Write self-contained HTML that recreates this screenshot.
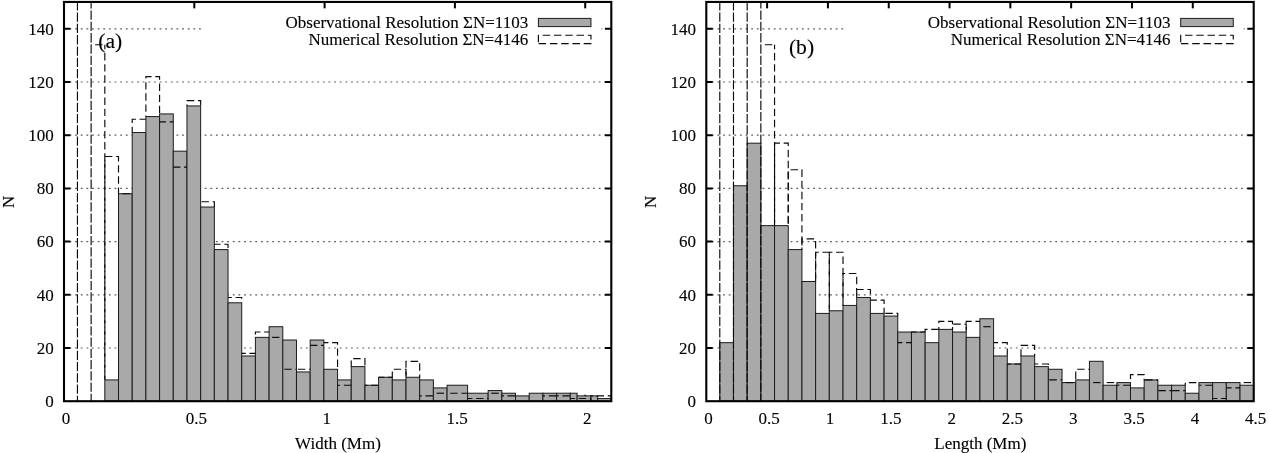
<!DOCTYPE html>
<html lang="en">
<head>
<meta charset="utf-8">
<title>Histograms of width and length</title>
<style>
html,body{margin:0;padding:0;background:#fff;}
body{width:1269px;height:453px;overflow:hidden;}
svg{display:block;}
svg text{font-family:"Liberation Serif", "DejaVu Serif", serif;font-size:17.0px;fill:#000;stroke:#000;stroke-width:0.12px;}
.grid{stroke:#5a5a5a;stroke-width:1.2;stroke-dasharray:1.8 3.83;fill:none;}
.bar{fill:#a9a9a9;stroke:#1c1c1c;stroke-width:1.0;}
.dash{fill:none;stroke:#0a0a0a;stroke-width:1.15;stroke-dasharray:7.42 3.71;}
.frame{fill:none;stroke:#000;stroke-width:2.1;}
.tick{fill:none;stroke:#000;stroke-width:2;}
</style>
</head>
<body>
<svg width="1269" height="453" viewBox="0 0 1269 453">
<rect x="0" y="0" width="1269" height="453" fill="#ffffff"/>
<line x1="63.90" y1="348.00" x2="611.30" y2="348.00" class="grid"/>
<line x1="63.90" y1="294.80" x2="611.30" y2="294.80" class="grid"/>
<line x1="63.90" y1="241.60" x2="611.30" y2="241.60" class="grid"/>
<line x1="63.90" y1="188.40" x2="611.30" y2="188.40" class="grid"/>
<line x1="63.90" y1="135.20" x2="611.30" y2="135.20" class="grid"/>
<line x1="63.90" y1="82.00" x2="611.30" y2="82.00" class="grid"/>
<line x1="63.90" y1="28.80" x2="201.80" y2="28.80" class="grid"/>
<line x1="601.00" y1="28.80" x2="602.70" y2="28.80" class="grid" style="stroke-dasharray:none;opacity:.55"/>
<path d="M194.30,401.20v-6.4" class="tick"/>
<path d="M324.60,401.20v-6.4" class="tick"/>
<path d="M454.90,401.20v-6.4" class="tick"/>
<path d="M585.20,401.20v-6.4" class="tick"/>
<rect x="104.82" y="379.92" width="13.69" height="21.28" class="bar"/>
<rect x="118.51" y="193.72" width="13.69" height="207.48" class="bar"/>
<rect x="132.20" y="132.54" width="13.69" height="268.66" class="bar"/>
<rect x="145.89" y="116.58" width="13.69" height="284.62" class="bar"/>
<rect x="159.58" y="113.92" width="13.69" height="287.28" class="bar"/>
<rect x="173.27" y="151.16" width="13.69" height="250.04" class="bar"/>
<rect x="186.96" y="105.94" width="13.69" height="295.26" class="bar"/>
<rect x="200.65" y="207.02" width="13.69" height="194.18" class="bar"/>
<rect x="214.34" y="249.58" width="13.69" height="151.62" class="bar"/>
<rect x="228.03" y="302.78" width="13.69" height="98.42" class="bar"/>
<rect x="241.72" y="355.98" width="13.69" height="45.22" class="bar"/>
<rect x="255.41" y="337.36" width="13.69" height="63.84" class="bar"/>
<rect x="269.10" y="326.72" width="13.69" height="74.48" class="bar"/>
<rect x="282.79" y="340.02" width="13.69" height="61.18" class="bar"/>
<rect x="296.48" y="371.94" width="13.69" height="29.26" class="bar"/>
<rect x="310.17" y="340.02" width="13.69" height="61.18" class="bar"/>
<rect x="323.86" y="369.28" width="13.69" height="31.92" class="bar"/>
<rect x="337.55" y="379.92" width="13.69" height="21.28" class="bar"/>
<rect x="351.24" y="366.62" width="13.69" height="34.58" class="bar"/>
<rect x="364.93" y="385.24" width="13.69" height="15.96" class="bar"/>
<rect x="378.62" y="377.26" width="13.69" height="23.94" class="bar"/>
<rect x="392.31" y="379.92" width="13.69" height="21.28" class="bar"/>
<rect x="406.00" y="377.26" width="13.69" height="23.94" class="bar"/>
<rect x="419.69" y="379.92" width="13.69" height="21.28" class="bar"/>
<rect x="433.38" y="387.90" width="13.69" height="13.30" class="bar"/>
<rect x="447.07" y="385.24" width="20.53" height="15.96" class="bar"/>
<rect x="467.60" y="393.22" width="20.54" height="7.98" class="bar"/>
<rect x="488.14" y="390.56" width="13.69" height="10.64" class="bar"/>
<rect x="501.83" y="393.22" width="13.69" height="7.98" class="bar"/>
<rect x="515.52" y="395.88" width="13.69" height="5.32" class="bar"/>
<rect x="529.21" y="393.22" width="13.69" height="7.98" class="bar"/>
<rect x="542.90" y="393.22" width="13.69" height="7.98" class="bar"/>
<rect x="556.59" y="393.22" width="13.69" height="7.98" class="bar"/>
<rect x="570.28" y="393.22" width="6.85" height="7.98" class="bar"/>
<rect x="577.12" y="395.88" width="20.53" height="5.32" class="bar"/>
<rect x="597.66" y="398.54" width="13.64" height="2.66" class="bar"/>
<path d="M77.44,401.20V1.95" class="dash" style="stroke-dasharray:9.27 2" stroke-dashoffset="3.82"/>
<path d="M91.13,401.20V1.95" class="dash" style="stroke-dasharray:9.27 2" stroke-dashoffset="1.82"/>
<path d="M91.13,44.76H104.82" class="dash" stroke-dashoffset="7.12"/>
<path d="M104.82,44.76V379.92" class="dash" stroke-dashoffset="2.84"/>
<path d="M104.82,379.92V156.48H118.51V193.72" class="dash" stroke-dashoffset="10.15"/>
<path d="M118.51,193.72H132.20" class="dash" stroke-dashoffset="7.14"/>
<path d="M132.20,132.54V119.24H145.89" class="dash" stroke-dashoffset="1.54"/>
<path d="M145.89,116.58V76.68H159.58V113.92" class="dash" stroke-dashoffset="6.37"/>
<path d="M159.58,121.90H173.27" class="dash" stroke-dashoffset="1.05"/>
<path d="M173.27,167.12H186.96" class="dash" stroke-dashoffset="0.35"/>
<path d="M186.96,105.94V100.62H200.65V105.94" class="dash" stroke-dashoffset="5.88"/>
<path d="M200.65,201.70H214.34V207.02" class="dash" stroke-dashoffset="10.29"/>
<path d="M214.34,244.26H228.03V249.58" class="dash" stroke-dashoffset="1.12"/>
<path d="M228.03,297.46H241.72V302.78" class="dash" stroke-dashoffset="3.57"/>
<path d="M241.72,353.32H255.41" class="dash" stroke-dashoffset="3.36"/>
<path d="M255.41,337.36V332.04H269.10" class="dash" stroke-dashoffset="8.19"/>
<path d="M269.10,337.36H282.79" class="dash" stroke-dashoffset="8.19"/>
<path d="M282.79,369.28H296.48" class="dash" stroke-dashoffset="9.66"/>
<path d="M296.48,369.28H310.17" class="dash" stroke-dashoffset="9.66"/>
<path d="M310.17,345.34H323.86" class="dash" stroke-dashoffset="0.21"/>
<path d="M323.86,342.68H337.55V369.28" class="dash" stroke-dashoffset="2.87"/>
<path d="M337.55,385.24H351.24" class="dash" stroke-dashoffset="4.83"/>
<path d="M351.24,366.62V358.64H364.93V366.62" class="dash" stroke-dashoffset="1.19"/>
<path d="M364.93,385.24H378.62" class="dash" stroke-dashoffset="4.83"/>
<path d="M378.62,377.26H392.31" class="dash" stroke-dashoffset="1.68"/>
<path d="M392.31,377.26V369.28H406.00V377.26" class="dash" stroke-dashoffset="1.68"/>
<path d="M406.00,377.26V361.30H419.69V377.26" class="dash" stroke-dashoffset="1.68"/>
<path d="M419.69,395.88H433.38" class="dash" stroke-dashoffset="5.32"/>
<path d="M433.38,393.22H447.07" class="dash" stroke-dashoffset="7.98"/>
<path d="M447.07,393.22H467.60" class="dash" stroke-dashoffset="7.98"/>
<path d="M467.60,398.54H488.14" class="dash" stroke-dashoffset="2.66"/>
<path d="M488.14,393.22H501.83" class="dash" stroke-dashoffset="7.98"/>
<path d="M501.83,395.88H515.52" class="dash" stroke-dashoffset="5.32"/>
<path d="M542.90,395.88H556.59" class="dash" stroke-dashoffset="5.32"/>
<path d="M556.59,395.88H570.28" class="dash" stroke-dashoffset="5.32"/>
<path d="M570.28,398.54H590.81V401.20" class="dash" stroke-dashoffset="2.66"/>
<path d="M590.81,401.20V395.88H611.30" class="dash" stroke-dashoffset="0.00"/>
<rect x="64.00" y="1.95" width="547.30" height="399.25" class="frame"/>
<text x="53.80" y="406.90" text-anchor="end">0</text>
<path d="M64.00,348.00h6.4M611.30,348.00h-6.4" class="tick"/>
<text x="53.80" y="353.70" text-anchor="end">20</text>
<path d="M64.00,294.80h6.4M611.30,294.80h-6.4" class="tick"/>
<text x="53.80" y="300.50" text-anchor="end">40</text>
<path d="M64.00,241.60h6.4M611.30,241.60h-6.4" class="tick"/>
<text x="53.80" y="247.30" text-anchor="end">60</text>
<path d="M64.00,188.40h6.4M611.30,188.40h-6.4" class="tick"/>
<text x="53.80" y="194.10" text-anchor="end">80</text>
<path d="M64.00,135.20h6.4M611.30,135.20h-6.4" class="tick"/>
<text x="53.80" y="140.90" text-anchor="end">100</text>
<path d="M64.00,82.00h6.4M611.30,82.00h-6.4" class="tick"/>
<text x="53.80" y="87.70" text-anchor="end">120</text>
<path d="M64.00,28.80h6.4M611.30,28.80h-6.4" class="tick"/>
<text x="53.80" y="34.50" text-anchor="end">140</text>
<text x="66.10" y="423.7" text-anchor="middle">0</text>
<path d="M194.30,1.95v6.4" class="tick"/>
<text x="196.40" y="423.7" text-anchor="middle">0.5</text>
<path d="M324.60,1.95v6.4" class="tick"/>
<text x="326.70" y="423.7" text-anchor="middle">1</text>
<path d="M454.90,1.95v6.4" class="tick"/>
<text x="457.00" y="423.7" text-anchor="middle">1.5</text>
<path d="M585.20,1.95v6.4" class="tick"/>
<text x="587.30" y="423.7" text-anchor="middle">2</text>
<text x="337.95" y="449.2" text-anchor="middle">Width (Mm)</text>
<text transform="translate(13.90,201.97) rotate(-90)" text-anchor="middle">N</text>
<text x="528.20" y="27.6" text-anchor="end">Observational Resolution ΣN=1103</text>
<text x="528.20" y="44.7" text-anchor="end">Numerical Resolution ΣN=4146</text>
<rect x="538.40" y="18.4" width="52.55" height="8.2" class="bar"/>
<path d="M538.40,43.55V35.2h52.55V43.55H538.40" class="dash" style="stroke-dasharray:7.5 3.77" stroke-dashoffset="-1.38"/>
<text x="98.20" y="48.20" style="font-size:21.6px">(a)</text>
<line x1="706.20" y1="348.00" x2="1253.70" y2="348.00" class="grid"/>
<line x1="706.20" y1="294.80" x2="1253.70" y2="294.80" class="grid"/>
<line x1="706.20" y1="241.60" x2="1253.70" y2="241.60" class="grid"/>
<line x1="706.20" y1="188.40" x2="1253.70" y2="188.40" class="grid"/>
<line x1="706.20" y1="135.20" x2="1253.70" y2="135.20" class="grid"/>
<line x1="706.20" y1="82.00" x2="1253.70" y2="82.00" class="grid"/>
<line x1="706.20" y1="28.80" x2="844.10" y2="28.80" class="grid"/>
<line x1="1243.40" y1="28.80" x2="1245.10" y2="28.80" class="grid" style="stroke-dasharray:none;opacity:.55"/>
<path d="M767.11,401.20v-6.4" class="tick"/>
<path d="M827.92,401.20v-6.4" class="tick"/>
<path d="M888.73,401.20v-6.4" class="tick"/>
<path d="M949.54,401.20v-6.4" class="tick"/>
<path d="M1010.35,401.20v-6.4" class="tick"/>
<path d="M1071.16,401.20v-6.4" class="tick"/>
<path d="M1131.97,401.20v-6.4" class="tick"/>
<path d="M1192.78,401.20v-6.4" class="tick"/>
<rect x="719.79" y="342.68" width="13.69" height="58.52" class="bar"/>
<rect x="733.48" y="185.74" width="13.69" height="215.46" class="bar"/>
<rect x="747.17" y="143.18" width="13.69" height="258.02" class="bar"/>
<rect x="760.86" y="225.64" width="13.69" height="175.56" class="bar"/>
<rect x="774.55" y="225.64" width="13.69" height="175.56" class="bar"/>
<rect x="788.24" y="249.58" width="13.69" height="151.62" class="bar"/>
<rect x="801.93" y="281.50" width="13.69" height="119.70" class="bar"/>
<rect x="815.62" y="313.42" width="13.69" height="87.78" class="bar"/>
<rect x="829.31" y="310.76" width="13.69" height="90.44" class="bar"/>
<rect x="843.00" y="305.44" width="13.69" height="95.76" class="bar"/>
<rect x="856.69" y="297.46" width="13.69" height="103.74" class="bar"/>
<rect x="870.38" y="313.42" width="13.69" height="87.78" class="bar"/>
<rect x="884.07" y="316.08" width="13.69" height="85.12" class="bar"/>
<rect x="897.76" y="332.04" width="13.69" height="69.16" class="bar"/>
<rect x="911.45" y="332.04" width="13.69" height="69.16" class="bar"/>
<rect x="925.14" y="342.68" width="13.69" height="58.52" class="bar"/>
<rect x="938.83" y="329.38" width="13.69" height="71.82" class="bar"/>
<rect x="952.52" y="332.04" width="13.69" height="69.16" class="bar"/>
<rect x="966.21" y="337.36" width="13.69" height="63.84" class="bar"/>
<rect x="979.90" y="318.74" width="13.69" height="82.46" class="bar"/>
<rect x="993.59" y="355.98" width="13.69" height="45.22" class="bar"/>
<rect x="1007.28" y="363.96" width="13.69" height="37.24" class="bar"/>
<rect x="1020.97" y="355.98" width="13.69" height="45.22" class="bar"/>
<rect x="1034.66" y="366.62" width="13.69" height="34.58" class="bar"/>
<rect x="1048.35" y="369.28" width="13.69" height="31.92" class="bar"/>
<rect x="1062.04" y="382.58" width="13.69" height="18.62" class="bar"/>
<rect x="1075.73" y="379.92" width="13.69" height="21.28" class="bar"/>
<rect x="1089.42" y="361.30" width="13.69" height="39.90" class="bar"/>
<rect x="1103.11" y="385.24" width="13.69" height="15.96" class="bar"/>
<rect x="1116.80" y="382.58" width="13.69" height="18.62" class="bar"/>
<rect x="1130.49" y="387.90" width="13.69" height="13.30" class="bar"/>
<rect x="1144.18" y="379.92" width="13.69" height="21.28" class="bar"/>
<rect x="1157.87" y="385.24" width="13.69" height="15.96" class="bar"/>
<rect x="1171.56" y="385.24" width="13.69" height="15.96" class="bar"/>
<rect x="1185.25" y="393.22" width="13.69" height="7.98" class="bar"/>
<rect x="1198.94" y="382.58" width="13.69" height="18.62" class="bar"/>
<rect x="1212.63" y="382.58" width="13.69" height="18.62" class="bar"/>
<rect x="1226.32" y="382.58" width="13.69" height="18.62" class="bar"/>
<rect x="1240.01" y="385.24" width="13.69" height="15.96" class="bar"/>
<path d="M719.79,401.20V1.95" class="dash" style="stroke-dasharray:9.27 2" stroke-dashoffset="3.82"/>
<path d="M733.48,401.20V1.95" class="dash" style="stroke-dasharray:9.27 2" stroke-dashoffset="3.82"/>
<path d="M747.17,401.20V1.95" class="dash" style="stroke-dasharray:9.27 2" stroke-dashoffset="3.82"/>
<path d="M760.86,401.20V1.95" class="dash" style="stroke-dasharray:9.27 2" stroke-dashoffset="1.82"/>
<path d="M760.86,44.76H774.55" class="dash" stroke-dashoffset="7.12"/>
<path d="M774.55,44.76V225.64" class="dash" stroke-dashoffset="2.84"/>
<path d="M774.55,225.64V143.18H788.24V225.64" class="dash" stroke-dashoffset="8.61"/>
<path d="M788.24,225.64V169.78H801.93V249.58" class="dash" stroke-dashoffset="8.61"/>
<path d="M801.93,249.58V238.94H815.62V281.50" class="dash" stroke-dashoffset="6.93"/>
<path d="M815.62,281.50V252.24H829.31V310.76" class="dash" stroke-dashoffset="8.40"/>
<path d="M829.31,310.76V252.24H843.00V305.44" class="dash" stroke-dashoffset="1.40"/>
<path d="M843.00,305.44V273.52H856.69V297.46" class="dash" stroke-dashoffset="6.72"/>
<path d="M856.69,297.46V289.48H870.38V297.46" class="dash" stroke-dashoffset="3.57"/>
<path d="M870.38,300.12H884.07V313.42" class="dash" stroke-dashoffset="0.91"/>
<path d="M884.07,313.42H897.76V316.08" class="dash" stroke-dashoffset="9.87"/>
<path d="M897.76,342.68H911.45" class="dash" stroke-dashoffset="2.87"/>
<path d="M911.45,332.04H925.14" class="dash" stroke-dashoffset="2.38"/>
<path d="M925.14,332.04V329.38H938.83" class="dash" stroke-dashoffset="2.38"/>
<path d="M938.83,329.38V321.40H952.52V329.38" class="dash" stroke-dashoffset="5.04"/>
<path d="M952.52,329.38V324.06H966.21V332.04" class="dash" stroke-dashoffset="5.04"/>
<path d="M966.21,332.04V321.40H979.90" class="dash" stroke-dashoffset="2.38"/>
<path d="M979.90,326.72H993.59" class="dash" stroke-dashoffset="7.70"/>
<path d="M993.59,342.68H1007.28V355.98" class="dash" stroke-dashoffset="2.87"/>
<path d="M1007.28,363.96H1020.97" class="dash" stroke-dashoffset="3.85"/>
<path d="M1020.97,355.98V345.34H1034.66V355.98" class="dash" stroke-dashoffset="0.70"/>
<path d="M1034.66,363.96H1048.35V366.62" class="dash" stroke-dashoffset="3.85"/>
<path d="M1048.35,379.92H1062.04" class="dash" stroke-dashoffset="10.15"/>
<path d="M1062.04,382.58H1075.73" class="dash" stroke-dashoffset="7.49"/>
<path d="M1075.73,379.92V369.28H1089.42" class="dash" stroke-dashoffset="10.15"/>
<path d="M1089.42,382.58H1103.11" class="dash" stroke-dashoffset="7.49"/>
<path d="M1103.11,382.58H1116.80" class="dash" stroke-dashoffset="7.49"/>
<path d="M1116.80,385.24H1130.49" class="dash" stroke-dashoffset="4.83"/>
<path d="M1130.49,382.58V374.60H1144.18V379.92" class="dash" stroke-dashoffset="7.49"/>
<path d="M1144.18,379.92H1157.87" class="dash" stroke-dashoffset="10.15"/>
<path d="M1157.87,390.56H1171.56" class="dash" stroke-dashoffset="10.64"/>
<path d="M1171.56,390.56H1185.25" class="dash" stroke-dashoffset="10.64"/>
<path d="M1185.25,385.24V382.58H1198.94" class="dash" stroke-dashoffset="4.83"/>
<path d="M1198.94,385.24H1212.63" class="dash" stroke-dashoffset="4.83"/>
<path d="M1212.63,398.54H1226.32" class="dash" stroke-dashoffset="2.66"/>
<path d="M1226.32,387.90H1240.01" class="dash" stroke-dashoffset="2.17"/>
<path d="M1240.01,382.58H1253.70" class="dash" stroke-dashoffset="7.49"/>
<rect x="706.30" y="1.95" width="547.40" height="399.25" class="frame"/>
<text x="696.10" y="406.90" text-anchor="end">0</text>
<path d="M706.30,348.00h6.4M1253.70,348.00h-6.4" class="tick"/>
<text x="696.10" y="353.70" text-anchor="end">20</text>
<path d="M706.30,294.80h6.4M1253.70,294.80h-6.4" class="tick"/>
<text x="696.10" y="300.50" text-anchor="end">40</text>
<path d="M706.30,241.60h6.4M1253.70,241.60h-6.4" class="tick"/>
<text x="696.10" y="247.30" text-anchor="end">60</text>
<path d="M706.30,188.40h6.4M1253.70,188.40h-6.4" class="tick"/>
<text x="696.10" y="194.10" text-anchor="end">80</text>
<path d="M706.30,135.20h6.4M1253.70,135.20h-6.4" class="tick"/>
<text x="696.10" y="140.90" text-anchor="end">100</text>
<path d="M706.30,82.00h6.4M1253.70,82.00h-6.4" class="tick"/>
<text x="696.10" y="87.70" text-anchor="end">120</text>
<path d="M706.30,28.80h6.4M1253.70,28.80h-6.4" class="tick"/>
<text x="696.10" y="34.50" text-anchor="end">140</text>
<text x="708.40" y="423.7" text-anchor="middle">0</text>
<path d="M767.11,1.95v6.4" class="tick"/>
<text x="769.21" y="423.7" text-anchor="middle">0.5</text>
<path d="M827.92,1.95v6.4" class="tick"/>
<text x="830.02" y="423.7" text-anchor="middle">1</text>
<path d="M888.73,1.95v6.4" class="tick"/>
<text x="890.83" y="423.7" text-anchor="middle">1.5</text>
<path d="M949.54,1.95v6.4" class="tick"/>
<text x="951.64" y="423.7" text-anchor="middle">2</text>
<path d="M1010.35,1.95v6.4" class="tick"/>
<text x="1012.45" y="423.7" text-anchor="middle">2.5</text>
<path d="M1071.16,1.95v6.4" class="tick"/>
<text x="1073.26" y="423.7" text-anchor="middle">3</text>
<path d="M1131.97,1.95v6.4" class="tick"/>
<text x="1134.07" y="423.7" text-anchor="middle">3.5</text>
<path d="M1192.78,1.95v6.4" class="tick"/>
<text x="1194.88" y="423.7" text-anchor="middle">4</text>
<text x="1255.69" y="423.7" text-anchor="middle">4.5</text>
<text x="980.30" y="449.2" text-anchor="middle">Length (Mm)</text>
<text transform="translate(656.20,201.97) rotate(-90)" text-anchor="middle">N</text>
<text x="1170.50" y="27.6" text-anchor="end">Observational Resolution ΣN=1103</text>
<text x="1170.50" y="44.7" text-anchor="end">Numerical Resolution ΣN=4146</text>
<rect x="1180.70" y="18.4" width="52.55" height="8.2" class="bar"/>
<path d="M1180.70,43.55V35.2h52.55V43.55H1180.70" class="dash" style="stroke-dasharray:7.5 3.77" stroke-dashoffset="-1.38"/>
<text x="788.90" y="54.30" style="font-size:21.6px">(b)</text>
</svg>
</body>
</html>
